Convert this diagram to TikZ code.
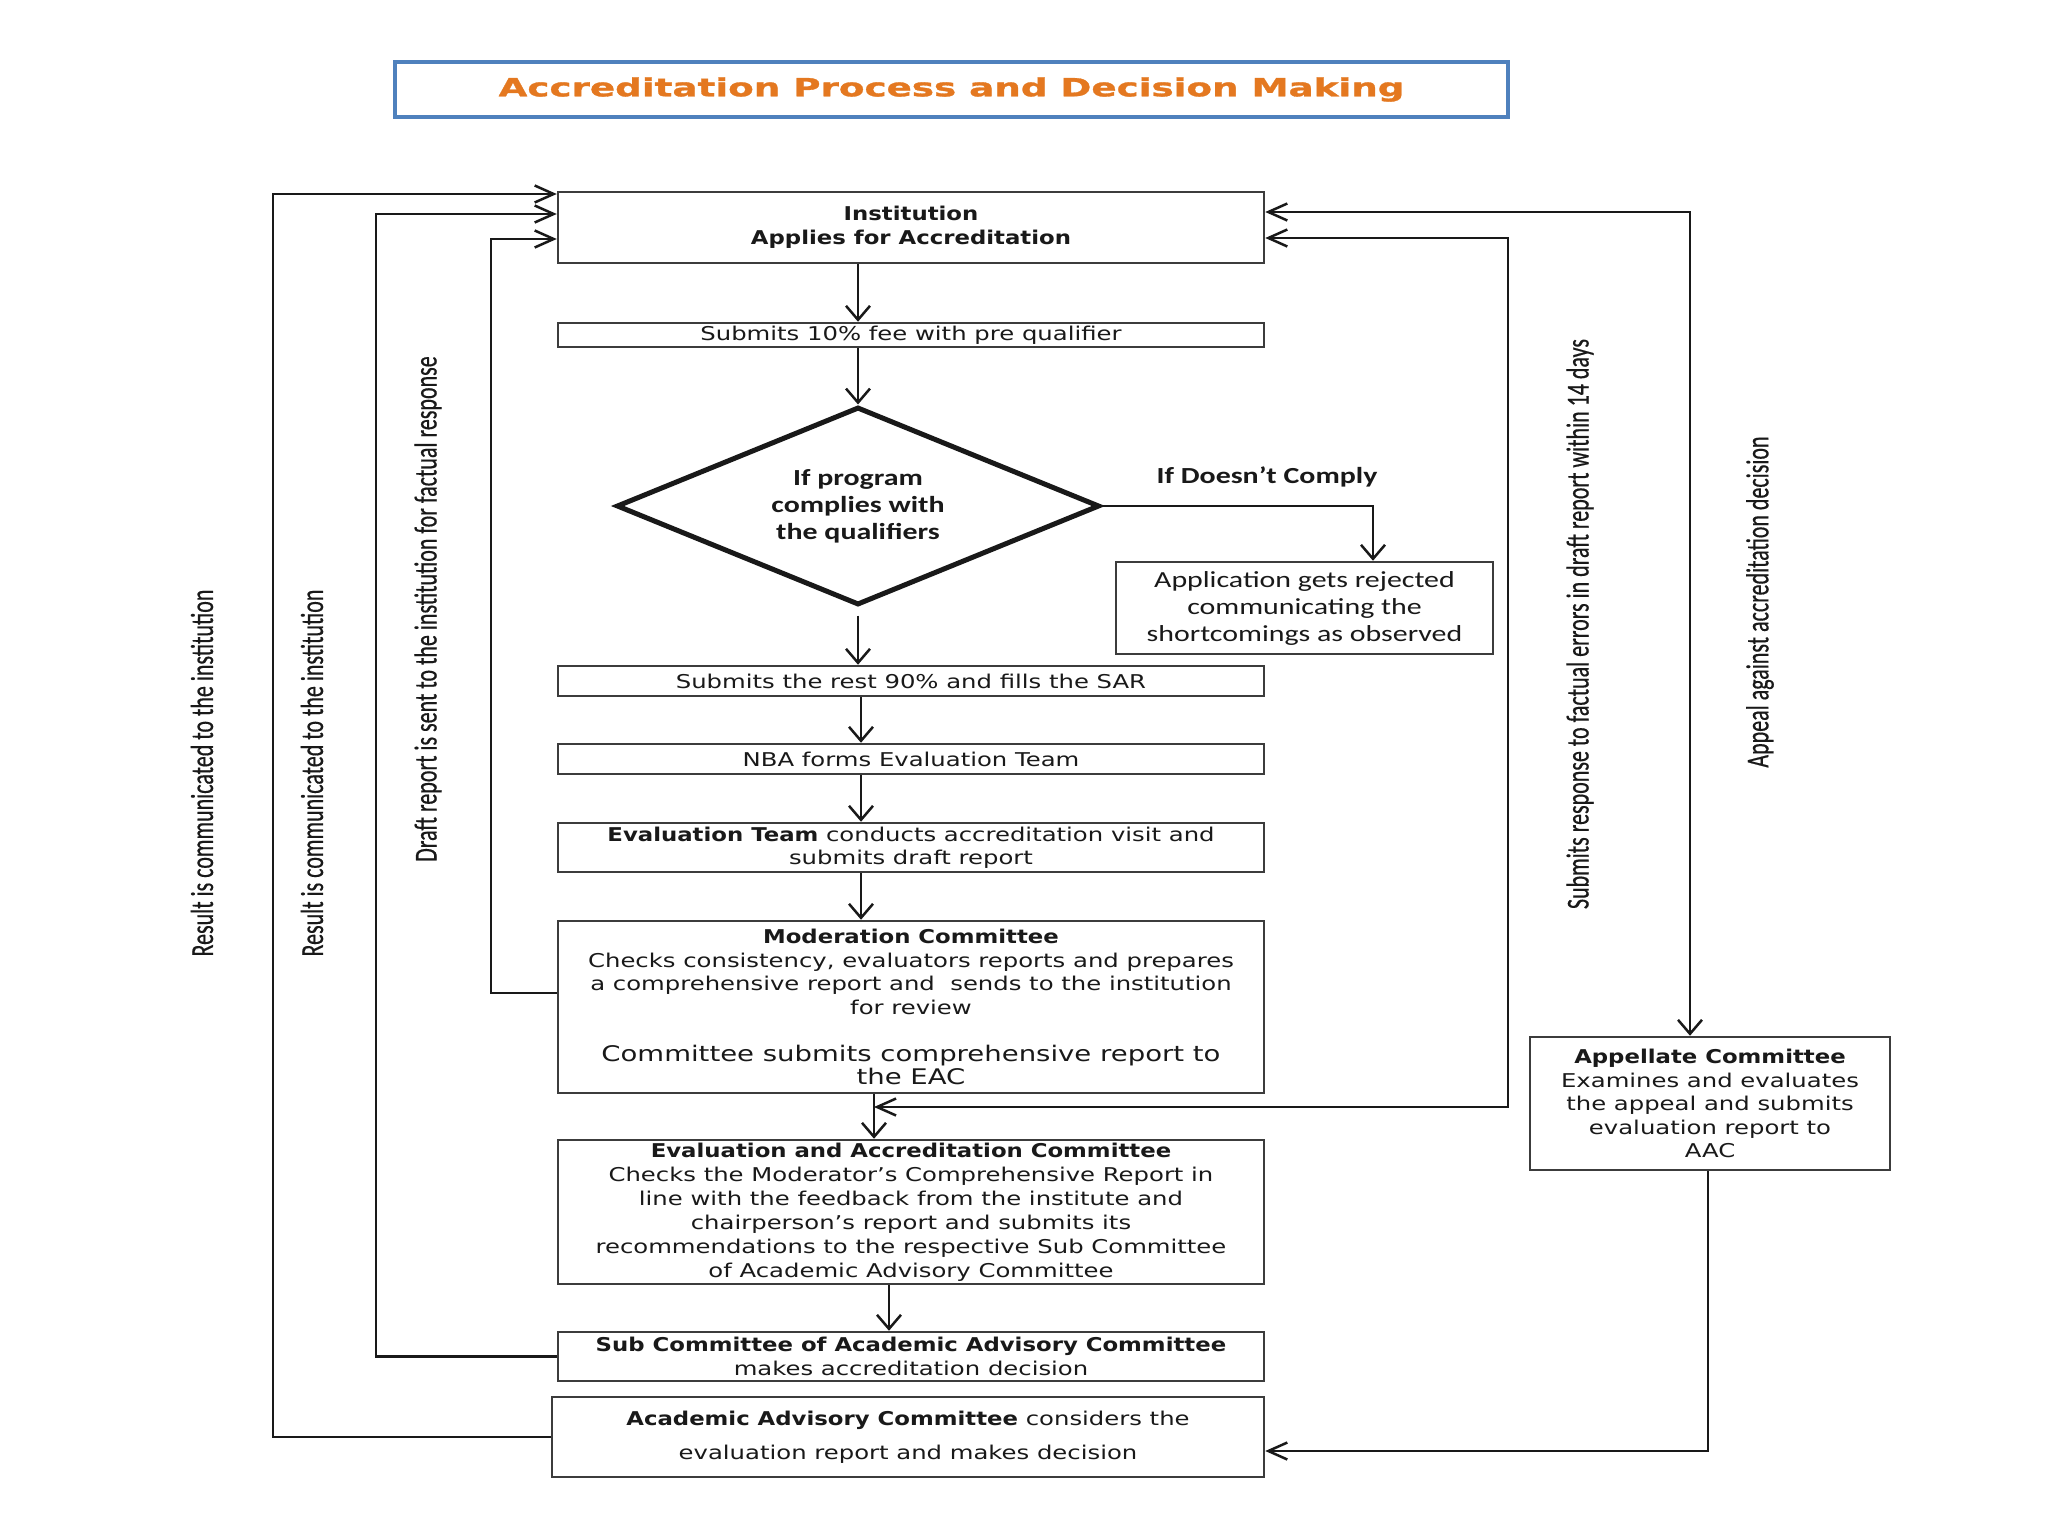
\documentclass[tikz,border=0pt]{standalone}
\usepackage{fontspec}
\usepackage{graphicx}
\usetikzlibrary{arrows.meta,shapes.geometric,calc}
\newfontfamily\fBox[FakeStretch=1.28]{DejaVu Sans}
\newfontfamily\fBoxB[FakeStretch=1.2]{DejaVu Sans}
\newfontfamily\fTitle[FakeStretch=1.49,FakeBold=1.2]{DejaVu Sans}
\newfontfamily\fCal[FakeStretch=1.3]{Carlito}
\newfontfamily\fCalR[FakeBold=0.6]{Carlito}
\newcommand\bxt[1]{{\fBoxB\bfseries #1}}
\definecolor{ttl}{RGB}{228,120,32}
\definecolor{ttlb}{RGB}{79,129,189}
\definecolor{bord}{RGB}{60,60,60}
\definecolor{ink}{RGB}{25,25,25}
\begin{document}
\begin{tikzpicture}[x=1pt,y=-1pt,
  box/.style={draw=bord, line width=2.5pt, rectangle, inner sep=0pt, align=center, text=ink,
    font=\fBox\fontsize{19}{23.5}\selectfont},
  conn/.style={draw=ink, line width=2.5pt},
  va/.style={-{Straight Barb[length=14pt,width=24pt]}},
  ha/.style={-{Straight Barb[length=19pt,width=17pt]}},
  rlab/.style={rotate=90, text=ink, font=\fCalR\fontsize{22}{26}\selectfont, inner sep=0pt}]
\useasboundingbox (0,0) rectangle (2048,1536);
\fill[white] (0,0) rectangle (2048,1536);

% title
\node[draw=ttlb, line width=4pt, minimum width=1113pt, minimum height=55pt, inner sep=0pt,
  text=ttl, font=\fTitle\bfseries\fontsize{25}{30}\selectfont] (title) at (951.5,89.5)
  {Accreditation Process and Decision Making};

% main column
\node[box, minimum width=706pt, minimum height=71pt] (inst) at (911,227.5)
  {\bxt{Institution}\\\bxt{Applies for Accreditation}};
\node[box, minimum width=706pt, minimum height=24pt] (fee) at (911,335)
  {Submits 10\% fee with pre qualifier};
\node[draw=ink, line width=5pt, diamond, aspect=2.44, minimum width=483pt, minimum height=198pt,
  inner sep=0pt, align=center, text=ink, font=\fCal\bfseries\fontsize{23}{27}\selectfont] (dia) at (858,506)
  {If program\\complies with\\the qualifiers};
\node[box, minimum width=377pt, minimum height=92pt, font=\fCal\fontsize{23}{27}\selectfont] (rej) at (1304.5,608)
  {Application gets rejected\\communicating the\\shortcomings as observed};
\node[text=ink, font=\fCal\bfseries\fontsize{23}{27}\selectfont] (nc) at (1267,477) {If Doesn’t Comply};
\node[box, minimum width=706pt, minimum height=30pt] (rest) at (911,681)
  {Submits the rest 90\% and fills the SAR};
\node[box, minimum width=706pt, minimum height=30pt] (nba) at (911,759)
  {NBA forms Evaluation Team};
\node[box, minimum width=706pt, minimum height=49pt] (et) at (911,847.5)
  {\bxt{Evaluation Team} conducts accreditation visit and\\submits draft report};
\node[box, minimum width=706pt, minimum height=172pt] (mod) at (911,1007)
  {\bxt{Moderation Committee}\\Checks consistency, evaluators reports and prepares\\a comprehensive report and~ sends to the institution\\for review\\[23.5pt]{\fontsize{21.5}{25}\selectfont Committee submits comprehensive report to}\\{\fontsize{21.5}{25}\selectfont the EAC}};
\node[box, minimum width=706pt, minimum height=144pt, font=\fBox\fontsize{19}{24}\selectfont] (eac) at (911,1212)
  {\bxt{Evaluation and Accreditation Committee}\\Checks the Moderator’s Comprehensive Report in\\line with the feedback from the institute and\\chairperson’s report and submits its\\recommendations to the respective Sub Committee\\of Academic Advisory Committee};
\node[box, minimum width=706pt, minimum height=49pt] (sub) at (911,1356.5)
  {\bxt{Sub Committee of Academic Advisory Committee}\\makes accreditation decision};
\node[box, minimum width=712pt, minimum height=80pt] (aac) at (908,1437)
  {\bxt{Academic Advisory Committee} considers the\\[11pt]evaluation report and makes decision};
\node[box, minimum width=360pt, minimum height=133pt] (app) at (1710,1103.5)
  {\bxt{Appellate Committee}\\Examines and evaluates\\the appeal and submits\\evaluation report to\\AAC};

% rotated labels
\node[rlab] (lab1) at (202,773) {\scalebox{1}[1.45]{Result is communicated to the institution}};
\node[rlab] (lab2) at (312,773) {\scalebox{1}[1.45]{Result is communicated to the institution}};
\node[rlab] (lab3) at (428,609) {\scalebox{1}[1.45]{Draft report is sent to the institution for factual response}};
\node[rlab] (lab4) at (1580,624) {\scalebox{1}[1.45]{Submits response to factual errors in draft report within 14 days}};
\node[rlab] (lab5) at (1760,602) {\scalebox{1}[1.45]{Appeal against accreditation decision}};

% main flow connectors
\coordinate (colB) at (861,0);
\coordinate (colC) at (874,0);
\coordinate (colD) at (889,0);
\draw[conn, va] (inst.south -| dia.north) -- (fee.north -| dia.north);
\draw[conn, va] (fee.south -| dia.north) -- (dia.north);
\draw[conn, va] (dia.east) -| ([xshift=68.5pt]rej.north);
\draw[conn, va] ([yshift=-8pt]dia.south) -- (rest.north -| dia.south);
\draw[conn, va] (rest.south -| colB) -- (nba.north -| colB);
\draw[conn, va] (nba.south -| colB) -- (et.north -| colB);
\draw[conn, va] (et.south -| colB) -- (mod.north -| colB);
\draw[conn, va] (mod.south -| colC) -- (eac.north -| colC);
\draw[conn, va] (eac.south -| colD) -- (sub.north -| colD);

% right loops
\coordinate (R1a) at (1508,238);
\coordinate (R1b) at (1508,1107);
\draw[conn, {Straight Barb[length=19pt,width=17pt]}-{Straight Barb[length=19pt,width=17pt]}]
  (inst.east |- R1a) -- (R1a) -- (R1b) -- (R1b -| colC);
\coordinate (R2) at (1690,212);
\draw[conn, {Straight Barb[length=19pt,width=17pt]}-{Straight Barb[length=14pt,width=24pt]}]
  (inst.east |- R2) -- (R2) -- (R2 |- app.north);
\coordinate (R3) at (1708,1451);
\draw[conn, ha] (app.south -| R3) -- (R3) -- (R3 -| aac.east);

% left loops
\coordinate (L1) at (273,194);
\draw[conn, ha] (aac.west) -| (L1) -- (L1 -| inst.west);
\coordinate (L2) at (376,214);
\draw[conn, ha] (sub.west) -| (L2) -- (L2 -| inst.west);
\coordinate (L3) at (491,239);
\draw[conn, ha] ([yshift=14pt]mod.west) -| (L3) -- (L3 -| inst.west);
\end{tikzpicture}
\end{document}
